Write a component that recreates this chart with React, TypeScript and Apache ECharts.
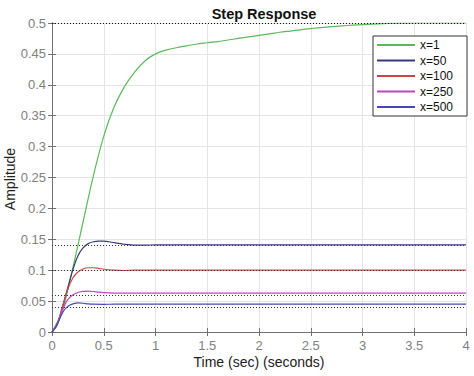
import React, { useEffect, useRef } from "react";
import * as echarts from "echarts";

const seriesNames = ["x=1", "x=50", "x=100", "x=250", "x=500"];
const seriesColors = ["#5cb85c", "#38387e", "#cc4848", "#bb48bb", "#4848b4"];
const finalValues = [0.5, 0.141, 0.1, 0.063, 0.045];

const tGreen = [0, 0.1, 0.2, 0.3, 0.4, 0.5, 0.6, 0.7, 0.8, 0.9, 1.0, 1.1, 1.2, 1.3, 1.4, 1.5, 1.6, 1.7, 1.8, 1.9, 2.0, 2.1, 2.2, 2.3, 2.4, 2.5, 2.6, 2.7, 2.8, 2.9, 3.0, 3.1, 3.2, 3.3, 3.4, 3.5, 3.6, 3.7, 3.8, 3.9, 4.0];
const yGreen = [0, 0.035, 0.103, 0.178, 0.253, 0.317, 0.364, 0.397, 0.421, 0.439, 0.45, 0.456, 0.46, 0.463, 0.466, 0.468, 0.47, 0.4725, 0.475, 0.4775, 0.48, 0.4825, 0.485, 0.487, 0.489, 0.491, 0.4925, 0.494, 0.4953, 0.4965, 0.4975, 0.4983, 0.499, 0.4995, 0.4998, 0.5, 0.5, 0.5, 0.5, 0.5, 0.5];

const t50 = [0, 0.05, 0.1, 0.15, 0.2, 0.25, 0.3, 0.35, 0.4, 0.45, 0.5, 0.55, 0.6, 0.7, 0.8, 0.9, 1.0, 4.0];
const y50 = [0, 0.012, 0.04, 0.07, 0.1, 0.123, 0.136, 0.143, 0.146, 0.147, 0.147, 0.146, 0.1445, 0.142, 0.1405, 0.1405, 0.141, 0.141];

const t100 = [0, 0.05, 0.1, 0.15, 0.2, 0.25, 0.3, 0.35, 0.4, 0.45, 0.5, 0.6, 0.7, 0.8, 1.0, 4.0];
const y100 = [0, 0.012, 0.04, 0.068, 0.087, 0.097, 0.102, 0.104, 0.104, 0.103, 0.1015, 0.1, 0.0995, 0.1, 0.1, 0.1];

const t250 = [0, 0.05, 0.1, 0.15, 0.2, 0.25, 0.3, 0.35, 0.4, 0.45, 0.5, 0.6, 0.7, 0.8, 1.0, 4.0];
const y250 = [0, 0.012, 0.035, 0.052, 0.06, 0.064, 0.0658, 0.066, 0.0655, 0.0645, 0.0638, 0.063, 0.0628, 0.063, 0.063, 0.063];

const t500 = [0, 0.03, 0.06, 0.09, 0.12, 0.15, 0.18, 0.21, 0.25, 0.3, 0.35, 0.4, 0.5, 0.6, 0.8, 1.0, 4.0];
const y500 = [0, 0.006, 0.016, 0.027, 0.036, 0.041, 0.044, 0.046, 0.047, 0.0465, 0.0455, 0.045, 0.0448, 0.045, 0.045, 0.045, 0.045];

const times = [tGreen, t50, t100, t250, t500];
const values = [yGreen, y50, y100, y250, y500];

export default function App() {
  const ref = useRef<HTMLDivElement>(null);
  useEffect(() => {
    if (!ref.current) return;
    const chart = echarts.init(ref.current, undefined, { renderer: "svg" });
    const fmt = (v: number) => String(+(+v).toFixed(2));
    const axisLineStyle = { color: "#707070", width: 1 };
    const option: any = {
      animation: false,
      backgroundColor: "#ffffff",
      textStyle: { fontFamily: "Liberation Sans, Arial, sans-serif" },
      title: {
        text: "Step Response",
        left: 259,
        textAlign: "center",
        top: 1,
        textStyle: { fontSize: 14.5, fontWeight: "bold", color: "#111", fontFamily: "Liberation Sans, Arial, sans-serif" },
      },
      grid: { left: 52, top: 23, right: 8, bottom: 44, containLabel: false },
      legend: {
        orient: "vertical",
        left: 373,
        top: 36,
        padding: [2, 14, 2, 4],
        itemGap: 1.5,
        itemWidth: 38,
        itemHeight: 2,
        icon: "rect",
        borderColor: "#333",
        borderWidth: 1,
        backgroundColor: "#fff",
        textStyle: { fontSize: 12, color: "#111", lineHeight: 14, fontFamily: "Liberation Sans, Arial, sans-serif" },
        data: seriesNames,
      },
      xAxis: [
        {
          type: "value",
          min: 0,
          max: 4,
          interval: 0.5,
          position: "bottom",
          axisLine: { show: true, lineStyle: axisLineStyle },
          axisTick: { show: true, inside: true, length: 4, lineStyle: axisLineStyle },
          axisLabel: { color: "#808080", fontSize: 13, margin: 7, formatter: fmt },
          splitLine: { show: true, lineStyle: { color: "#e4e4e4", width: 1 } },
        },
        {
          type: "value",
          min: 0,
          max: 4,
          interval: 0.5,
          position: "top",
          axisLine: { show: true, lineStyle: axisLineStyle },
          axisTick: { show: true, inside: true, length: 4, lineStyle: axisLineStyle },
          axisLabel: { show: false },
          splitLine: { show: false },
        },
      ],
      yAxis: [
        {
          type: "value",
          min: 0,
          max: 0.5,
          interval: 0.05,
          position: "left",
          axisLine: { show: true, lineStyle: axisLineStyle },
          axisTick: { show: true, inside: true, length: 4, lineStyle: axisLineStyle },
          axisLabel: { color: "#808080", fontSize: 13, margin: 6, formatter: fmt },
          splitLine: { show: true, lineStyle: { color: "#e4e4e4", width: 1 } },
        },
        {
          type: "value",
          min: 0,
          max: 0.5,
          interval: 0.05,
          position: "right",
          axisLine: { show: true, lineStyle: axisLineStyle },
          axisTick: { show: true, inside: true, length: 4, lineStyle: axisLineStyle },
          axisLabel: { show: false },
          splitLine: { show: false },
        },
      ],
      graphic: [
        {
          type: "text",
          x: 259,
          y: 362,
          style: {
            text: "Time (sec) (seconds)",
            fill: "#222",
            font: "14px Liberation Sans, Arial, sans-serif",
            textAlign: "center",
            textVerticalAlign: "middle",
          },
        },
        {
          type: "text",
          x: 10,
          y: 179,
          rotation: Math.PI / 2,
          style: {
            text: "Amplitude",
            fill: "#222",
            font: "14px Liberation Sans, Arial, sans-serif",
            textAlign: "center",
            textVerticalAlign: "middle",
          },
        },
      ],
      series: seriesNames.map((name, i) => ({
        name,
        type: "line",
        xAxisIndex: 0,
        yAxisIndex: 0,
        data: times[i].map((t, k) => [t, values[i][k]]),
        smooth: 0.3,
        showSymbol: false,
        symbol: "none",
        lineStyle: { color: seriesColors[i], width: 1.2 },
        itemStyle: { color: seriesColors[i] },
        z: 3,
        markLine: {
          silent: true,
          symbol: "none",
          label: { show: false },
          lineStyle: { color: i === 0 ? "#111" : "#333", type: [1, 2], width: 1 },
          data: [{ yAxis: finalValues[i] }],
          z: 4,
        },
      })),
    };
    chart.setOption(option);
    return () => chart.dispose();
  }, []);
  return (
    <div
      ref={ref}
      style={{ position: "fixed", left: 0, top: 0, width: 474, height: 376, background: "#fff" }}
    />
  );
}
